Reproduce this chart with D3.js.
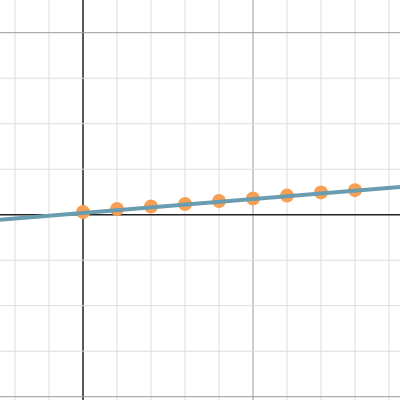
<!DOCTYPE html><html><head><script src="https://cdn.jsdelivr.net/npm/d3@7"></script>
<style>body{margin:0}svg{display:block}</style></head><body><script>
const xs=[0,1,2,3,4,5,6,7,8];
const ys=[0.06,0.125,0.18,0.235,0.3,0.355,0.42,0.49,0.54];
const lineSlope=0.061, lineIntercept=0.04;
const W=400,H=400;
const x=d3.scaleLinear().domain([-83/34,317/34]).range([0,W]);
const y=d3.scaleLinear().domain([-185.3/45.5,214.7/45.5]).range([H,0]);
const svg=d3.select("body").append("svg").attr("width",W).attr("height",H);
svg.append("rect").attr("width",W).attr("height",H).attr("fill","#fff");
const xt=d3.range(-2,10),yt=d3.range(-4,5);
svg.selectAll(".vx").data(xt).join("line").attr("x1",d=>x(d)).attr("x2",d=>x(d)).attr("y1",0).attr("y2",H)
 .attr("stroke",d=>d===0?"#222":d%5===0?"#999":"#ddd").attr("stroke-width",d=>d===0?1.5:1);
svg.selectAll(".hy").data(yt).join("line").attr("y1",d=>y(d)).attr("y2",d=>y(d)).attr("x1",0).attr("x2",W)
 .attr("stroke",d=>d===0?"#222":d%4===0?"#999":"#ddd").attr("stroke-width",d=>d===0?1.5:1);
svg.selectAll("circle").data(xs).join("circle").attr("cx",d=>x(d)).attr("cy",(d,i)=>y(ys[i])).attr("r",7).attr("fill","#f7a055");
const X0=x.domain()[0],X1=x.domain()[1];
svg.append("line").attr("x1",x(X0)).attr("x2",x(X1)).attr("y1",y(lineIntercept+lineSlope*X0)).attr("y2",y(lineIntercept+lineSlope*X1))
 .attr("stroke","#6a9cb0").attr("stroke-width",4);
</script></body></html>
